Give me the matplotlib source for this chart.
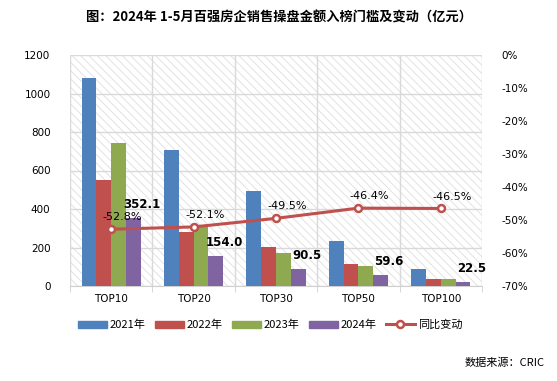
import matplotlib
matplotlib.use("Agg")
import matplotlib.pyplot as plt
import numpy as np
from matplotlib.patches import Rectangle
from matplotlib.lines import Line2D
from matplotlib.ticker import FuncFormatter

plt.rcParams['font.family'] = ['Noto Sans CJK SC', 'DejaVu Sans']
plt.rcParams['hatch.color'] = '#dedede'
plt.rcParams['hatch.linewidth'] = 0.6

categories = ['TOP10', 'TOP20', 'TOP30', 'TOP50', 'TOP100']
series_names = ['2021年', '2022年', '2023年', '2024年']
v2021 = [1079, 705, 491, 235, 89]
v2022 = [553, 282, 204, 115, 37]
v2023 = [741, 310, 172, 104, 37]
v2024 = [352.1, 154.0, 90.5, 59.6, 22.5]
yoy = [-52.8, -52.1, -49.5, -46.4, -46.5]
colors = ['#4F81BD', '#C0504D', '#8EA94F', '#8064A2']
line_color = '#C0504D'

fig = plt.figure(figsize=(5.57, 3.81), dpi=100)
ax = fig.add_axes([70/557, 1-286/381, 412/557, 231/381])
ax.set_facecolor('white')
ax.add_patch(Rectangle((0, 0), 1, 1, transform=ax.transAxes, facecolor='white',
                       edgecolor='#dedede', hatch='\\\\\\\\', linewidth=0, zorder=0))

x = np.arange(len(categories))
bw = 0.18
data = [v2021, v2022, v2023, v2024]
for i, (vals, c) in enumerate(zip(data, colors)):
    ax.bar(x + (i - 1.5) * bw, vals, width=bw, color=c, zorder=3, label=series_names[i])

for xi, v in zip(x, v2024):
    ax.annotate(f'{v:.1f}', (xi + 1.5 * bw, v), xytext=(6, 5), textcoords='offset points',
                ha='center', va='bottom', fontsize=8.5, fontweight='bold', zorder=6,
                family=['DejaVu Sans'])

ax.set_xlim(-0.5, len(categories) - 0.5)
ax.set_ylim(0, 1200)
ax.set_yticks(range(0, 1201, 200))
ax.set_xticks(x)
ax.set_xticklabels(categories, fontsize=7.5, family=['DejaVu Sans'])
ax.set_xticks(np.arange(-0.5, len(categories), 1), minor=True)
ax.tick_params(axis='x', which='major', length=0, pad=6)
ax.tick_params(axis='x', which='minor', length=4, color='#d0d0d0')
ax.tick_params(axis='y', length=0, labelsize=7.5, pad=14)
for lab in ax.get_yticklabels():
    lab.set_family(['DejaVu Sans'])
ax.grid(axis='y', color='#d9d9d9', linewidth=1, zorder=1)
ax.grid(axis='x', which='minor', color='#d9d9d9', linewidth=1, zorder=1)
ax.set_axisbelow(True)
for s in ['top', 'right', 'left']:
    ax.spines[s].set_visible(False)
ax.spines['bottom'].set_color('#d0d0d0')

ax2 = ax.twinx()
ax2.plot(x, yoy, color=line_color, linewidth=2.2, marker='o', markersize=5,
         markerfacecolor='white', markeredgecolor=line_color, markeredgewidth=1.8, zorder=5)
for xi, v in zip(x, yoy):
    ax2.annotate(f'{v:.1f}%', (xi, v), xytext=(8, 5), textcoords='offset points',
                 ha='center', va='bottom', fontsize=8, family=['DejaVu Sans'])
ax2.set_ylim(-70, 0)
ax2.set_yticks(range(-70, 1, 10))
ax2.yaxis.set_major_formatter(FuncFormatter(lambda v, p: f'{int(v)}%'))
ax2.tick_params(axis='y', length=0, labelsize=7.5, pad=14)
for lab in ax2.get_yticklabels():
    lab.set_family(['DejaVu Sans'])
for s in ax2.spines.values():
    s.set_visible(False)

fig.text(0.5, 1-18/381, '图：2024年 1-5月百强房企销售操盘金额入榜门槛及变动（亿元）',
         ha='center', va='center', fontsize=9.5, fontweight='bold')

handles = [Rectangle((0, 0), 1, 1, color=c) for c in colors]
handles.append(Line2D([], [], color=line_color, linewidth=2.2, marker='o', markersize=5,
                      markerfacecolor='white', markeredgecolor=line_color, markeredgewidth=1.8))
labels = series_names + ['同比变动']
fig.legend(handles, labels, loc='center', bbox_to_anchor=(0.485, 1-325/381), ncol=5,
           frameon=False, fontsize=8, handlelength=2.6, handleheight=0.6,
           handletextpad=0.3, columnspacing=0.8)

fig.text(545/557, 1-363/381, '数据来源：CRIC', ha='right', va='center', fontsize=8)

fig.savefig('out.png', dpi=100)
